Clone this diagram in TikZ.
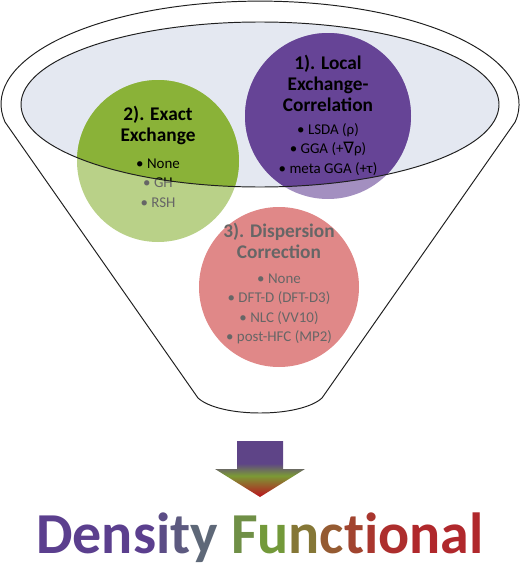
\documentclass[tikz,border=0pt]{standalone}
\usepackage{fontspec}
\setmainfont{Carlito}
\newfontfamily\symbfont{DejaVu Sans}

\definecolor{linse}{HTML}{E4E8F1}
\definecolor{xgruen}{HTML}{8AB238}
\definecolor{xlila}{HTML}{664496}
\definecolor{xrot}{HTML}{CC3838}
\definecolor{pfeilLila}{HTML}{5E4487}
\definecolor{pfeilGruen}{HTML}{7B9A35}
\definecolor{pfeilRot}{HTML}{B52020}
\definecolor{dfLila}{HTML}{5B3F8E}
\definecolor{dfSchiefer}{HTML}{5E6878}
\definecolor{dfGruen}{HTML}{73993A}
\definecolor{dfRot}{HTML}{B0282C}

\pgfdeclareverticalshading{pfeilverlauf}{100bp}{color(0bp)=(pfeilRot); color(27bp)=(pfeilRot); color(44bp)=(pfeilGruen); color(55bp)=(pfeilLila); color(100bp)=(pfeilLila)}

% die drei Kreise mit Text, wird zweimal gezeichnet
\newcommand{\kreise}{%
  \fill[xgruen] (158,-161) circle[radius=81];
  \fill[xlila] (328,-116) circle[radius=83];
  \fill[xrot] (279,-287) circle[radius=80];
  \node[titel] (t2) at (158,-125.5) {2). Exact\\Exchange};
  \node[punkte] (p2) at (158,-183) {\textbullet\ None\\\textbullet\ GH\\\textbullet\ RSH};
  \node[titel] (t1) at (328,-83.5) {1). Local\\Exchange-\\Correlation};
  \node[punkte] (p1) at (328,-149.5) {\textbullet\ LSDA (ρ)\\\textbullet\ GGA (+{\symbfont\small ∇}ρ)\\\textbullet\ meta GGA (+τ)};
  \node[titel] (t3) at (279,-240.5) {3). Dispersion\\Correction};
  \node[punkte] (p3) at (279,-309) {\textbullet\ None\\\textbullet\ DFT-D (DFT-D3)\\\textbullet\ NLC (VV10)\\\textbullet\ post-HFC (MP2)};
}

\begin{document}
\begin{tikzpicture}[x=0.02cm, y=0.02cm,
    titel/.style={font=\fontsize{11}{11.9}\selectfont\bfseries, align=center, text=black, inner sep=0pt},
    punkte/.style={font=\fontsize{8.5}{11.1}\selectfont, align=center, text=black, inner sep=0pt},
    kontur/.style={draw=black!88, line width=0.55pt}
  ]
  \useasboundingbox (0,0) rectangle (520,-568);

  % --- Trichter ---
  \draw[kontur] (198,-398) -- (5,-122) arc[start angle=190, end angle=-10, x radius=259, y radius=103]
    -- (322,-398) .. controls (300,-418) and (220,-418) .. (198,-398);

  % --- Linse ---
  \fill[linse] (260,-104.5) ellipse[x radius=239, y radius=82.5];
  \begin{scope}[transparency group, opacity=0.6]
    \kreise
  \end{scope}
  \begin{scope}
    \clip (260,-104.5) ellipse[x radius=239, y radius=82.5];
    \kreise
  \end{scope}
  \draw[kontur] (260,-104.5) ellipse[x radius=239, y radius=82.5];

  % --- Pfeil ---
  \shade[shading=pfeilverlauf] (237,-441) -- (283,-441) -- (283,-469) -- (305,-469) -- (260,-497)
    -- (215,-469) -- (237,-469) -- cycle;

  % --- Ergebnis ---
  \node[font=\fontsize{33}{36}\selectfont\bfseries, anchor=base, inner sep=0pt] (df) at (260,-553)
    {\textcolor{dfLila}{Dens}\textcolor{dfLila!65!dfSchiefer}{i}\textcolor{dfLila!35!dfSchiefer}{t}\textcolor{dfSchiefer}{y}
     \textcolor{dfGruen!80!dfSchiefer}{F}\textcolor{dfGruen}{u}\textcolor{dfGruen!70!dfRot}{n}\textcolor{dfGruen!45!dfRot}{c}\textcolor{dfGruen!25!dfRot}{t}\textcolor{dfGruen!12!dfRot}{i}\textcolor{dfGruen!5!dfRot}{o}\textcolor{dfRot}{nal}};
\end{tikzpicture}
\end{document}
